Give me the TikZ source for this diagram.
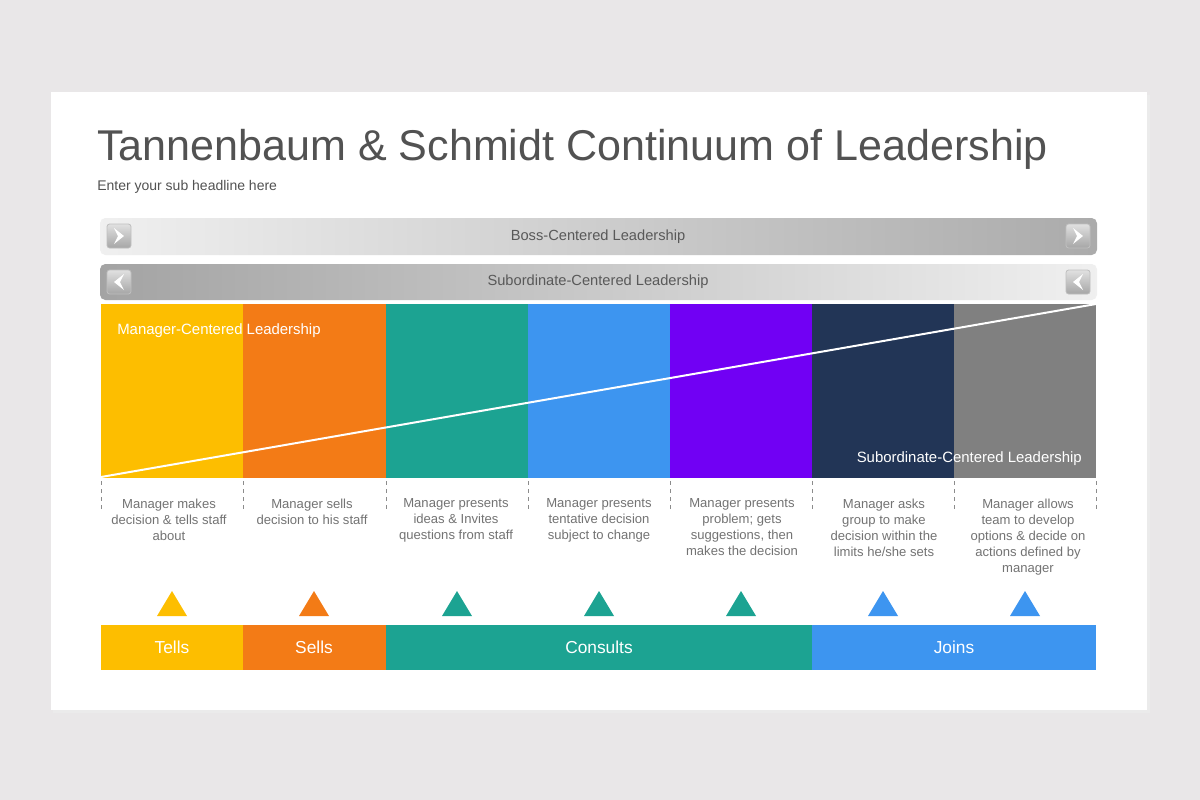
\documentclass[tikz,border=0pt]{standalone}
\usepackage{fontspec}
\setmainfont{Liberation Sans}
\begin{document}
\begin{tikzpicture}[x=0.75pt,y=-0.75pt,
  desc/.style={font=\fontsize{9.8}{12}\selectfont,text=black!55,align=center,anchor=north},
  lab/.style={font=\fontsize{13}{15}\selectfont,text=white},
  btn/.style={rounded corners=2pt,draw=black!25,line width=0.6pt,top color=black!12,bottom color=black!35}]
\definecolor{cy}{HTML}{FDBE00}\definecolor{co}{HTML}{F37B16}
\definecolor{ct}{HTML}{1CA392}\definecolor{cb}{HTML}{3D95F0}
\definecolor{cp}{HTML}{7100F4}\definecolor{cn}{HTML}{223556}
\definecolor{cg}{HTML}{808080}\definecolor{bg}{HTML}{E9E7E8}
\useasboundingbox (0,0) rectangle (1200,800);
\fill[bg] (0,0) rectangle (1200,800);
\fill[black!8] (53,95) rectangle (1150,713);
\fill[white] (51,92) rectangle (1147,710);
\node[anchor=base west,font=\fontsize{32.3}{36}\selectfont,text=black!68,inner sep=0] (title) at (97,160) {Tannenbaum \& Schmidt Continuum of Leadership};
\node[anchor=base west,font=\fontsize{10.5}{12}\selectfont,text=black!68,inner sep=0] (sub) at (97,190) {Enter your sub headline here};
% bars
\shade[left color=black!6,right color=black!33,rounded corners=4pt] (100,218) rectangle (1097,255);
\node[font=\fontsize{11}{13}\selectfont,text=black!65] (boss) at (598,236.5) {Boss-Centered Leadership};
\shade[left color=black!36,right color=black!6,rounded corners=4pt] (100,264) rectangle (1097,300);
\node[font=\fontsize{11}{13}\selectfont,text=black!65] (subl) at (598,282) {Subordinate-Centered Leadership};
\draw[btn] (107,224) rectangle (131,248);
\draw[btn] (1066,224) rectangle (1090,248);
\draw[btn] (107,270) rectangle (131,294);
\draw[btn] (1066,270) rectangle (1090,294);
\foreach \x in {119,1078}{\fill[white] (\x-5,228)--(\x+5,236)--(\x-5,244)--(\x-1,236)--cycle;}
\foreach \x in {119,1078}{\fill[white] (\x+5,274)--(\x-5,282)--(\x+5,290)--(\x+1,282)--cycle;}
% columns
\foreach \a/\b/\c in {101/243/cy,243/386/co,386/528/ct,528/670/cb,670/812/cp,812/954/cn,954/1096/cg}{
  \fill[\c] (\a,304) rectangle (\b,478);}
\coordinate (d1) at (101,477); \coordinate (d2) at (1096,304);
\draw[white,line width=1.5pt] (d1)--(d2);
\node[lab,font=\fontsize{11.2}{13}\selectfont,anchor=base west,inner sep=0] (mcl) at (117,334) {Manager-Centered Leadership};
\node[lab,font=\fontsize{11.2}{13}\selectfont,anchor=base east,inner sep=0] (scl) at (1082,462) {Subordinate-Centered Leadership};
\foreach \x in {101,243,386,528,670,812,954,1096}{\draw[black!45,line width=0.7pt,dash pattern=on 3pt off 3pt] (\x,481)--(\x,512);}
\node[desc] (t1) at (169,494) {Manager makes\\decision \& tells staff\\about};
\node[desc] (t2) at (312,494) {Manager sells\\decision to his staff};
\node[desc] (t3) at (456,494) {Manager presents\\ideas \& Invites\\questions from staff};
\node[desc] (t4) at (599,494) {Manager presents\\tentative decision\\subject to change};
\node[desc] (t5) at (742,494) {Manager presents\\problem; gets\\suggestions, then\\makes the decision};
\node[desc] (t6) at (884,494) {Manager asks\\group to make\\decision within the\\limits he/she sets};
\node[desc] (t7) at (1028,494) {Manager allows\\team to develop\\options \& decide on\\actions defined by\\manager};
\foreach \x/\c in {172/cy,314/co,457/ct,599/ct,741/ct,883/cb,1025/cb}{\fill[\c] (\x-15,616)--(\x,591)--(\x+15,616)--cycle;}
\fill[cy] (101,625) rectangle (243,670);
\fill[co] (243,625) rectangle (386,670);
\fill[ct] (386,625) rectangle (812,670);
\fill[cb] (812,625) rectangle (1096,670);
\node[lab] (tells) at (172,647.5) {Tells};
\node[lab] (sells) at (314,647.5) {Sells};
\node[lab] (cons) at (599,647.5) {Consults};
\node[lab] (joins) at (954,647.5) {Joins};
\end{tikzpicture}
\end{document}
